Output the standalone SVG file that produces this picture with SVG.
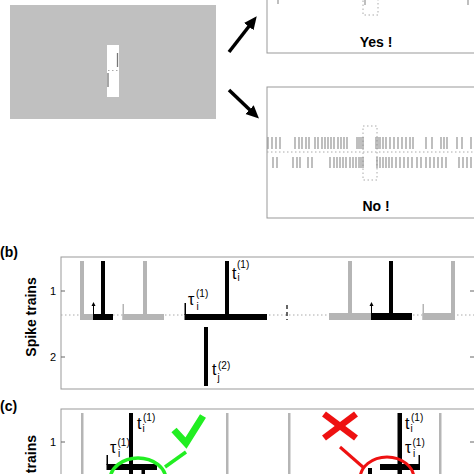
<svg xmlns="http://www.w3.org/2000/svg" width="474" height="474" viewBox="0 0 474 474">
<defs>
<style>
text{font-family:"Liberation Sans",Arial,sans-serif;fill:#000}
.b{font-weight:bold}
.box{fill:#fff;stroke:#999;stroke-width:1}
.dot{stroke:#aaa;stroke-width:1;stroke-dasharray:1.5,2.5;fill:none}
.sp1{stroke:#8a8a8a;stroke-width:1.1}
.gr{fill:#b5b5b5}
.bk{fill:#000}
.tk{stroke:#666;stroke-width:1}
.big{font-size:16px}
.sm{font-size:10px}
.arr{stroke:#000;stroke-width:3.5;fill:none}
</style>
<marker id="ah" markerUnits="userSpaceOnUse" markerWidth="14" markerHeight="14" viewBox="0 0 14 14" refX="2" refY="7" orient="auto">
<path d="M0,1 L13,7 L0,13 z" fill="#000"/>
</marker>
</defs>

<g id="stimulus">
<rect x="10" y="5" width="206" height="114" fill="#c0c0c0"/>
<rect x="107" y="45" width="12" height="52" fill="#fff"/>
<line x1="117.5" y1="53" x2="117.5" y2="67" stroke="#777" stroke-width="1.3"/>
<line x1="108" y1="73" x2="108" y2="87" stroke="#777" stroke-width="1.3"/>
<line x1="108" y1="70.5" x2="118" y2="70.5" class="dot"/>
</g>

<g id="connectors">
<line x1="229" y1="52" x2="250" y2="25" class="arr" marker-end="url(#ah)"/>
<line x1="229" y1="90" x2="251" y2="111" class="arr" marker-end="url(#ah)"/>
</g>

<g id="yes-panel">
<rect x="267" y="-2" width="220" height="55" class="box"/>
<line x1="278" y1="0" x2="278" y2="4" class="sp1"/>
<line x1="365" y1="0" x2="365" y2="5" class="sp1"/>
<line x1="468" y1="0" x2="468" y2="5" class="sp1"/>
<rect x="363" y="-2" width="15" height="17" class="dot"/>
<text x="376" y="47" class="b" font-size="14" text-anchor="middle">Yes !</text>
</g>

<g id="no-panel">
<rect x="267" y="87" width="220" height="131" class="box"/>
<rect x="363" y="126" width="14" height="54" class="dot"/>
<line x1="267" y1="152" x2="474" y2="152" class="dot"/>
<path class="sp1" d="M268,137v12M272,137v12M276,137v12M280,137v12M295,137v12M299,137v12M302,137v12M306,137v12M309,137v12M315,137v12M318,137v12M322,137v12M325,137v12M328,137v12M331,137v12M334,137v12M338,137v12M341,137v12M344,137v12M347,137v12M357,137v12M359,137v12M361,137v12M363,137v12M376,137v12M378,137v12M380,137v12M383,137v12M386,137v12M390,137v12M394,137v12M398,137v12M402,137v12M406,137v12M410,137v12M413,137v12M426,137v12M432,137v12M441,137v12M444,137v12M447,137v12M457,137v12M462,137v12M471,137v12"/>
<path class="sp1" d="M273,157v11M277,157v11M293,157v11M297,157v11M300,157v11M308,157v11M312,157v11M330,157v11M334,157v11M337,157v11M340,157v11M343,157v11M346,157v11M350,157v11M353,157v11M356,157v11M359,157v11M361,157v11M363,157v11M377,157v11M380,157v11M383,157v11M386,157v11M389,157v11M392,157v11M396,157v11M400,157v11M404,157v11M408,157v11M412,157v11M417,157v11M421,157v11M426,157v11M430,157v11M434,157v11M438,157v11M442,157v11M446,157v11M459,157v11M463,157v11M467,157v11M471,157v11"/>
<text x="376" y="211" class="b" font-size="14" text-anchor="middle">No !</text>
</g>

<g id="panel-b">
<text x="0" y="257" class="b" font-size="14">(b)</text>
<rect x="61" y="257" width="430" height="132" class="box"/>
<text transform="translate(36,317) rotate(-90)" class="b" font-size="14" text-anchor="middle">Spike trains</text>
<line x1="61" y1="291" x2="65" y2="291" class="tk"/>
<line x1="61" y1="357" x2="65" y2="357" class="tk"/>
<line x1="470" y1="291" x2="474" y2="291" class="tk"/>
<line x1="470" y1="357" x2="474" y2="357" class="tk"/>
<text x="56" y="295" font-size="11" text-anchor="end">1</text>
<text x="56" y="361" font-size="11" text-anchor="end">2</text>
<line x1="61" y1="315" x2="474" y2="315" class="dot"/>

<rect x="80" y="261" width="4" height="59" class="gr"/>
<rect x="80" y="314" width="15" height="6" class="gr"/>
<rect x="93" y="314" width="20" height="6" class="bk"/>
<rect x="101" y="261" width="4" height="53" class="bk"/>
<line x1="93.5" y1="314" x2="93.5" y2="305" stroke="#000" stroke-width="1"/>
<path d="M91.5,306 L93.5,302 L95.5,306 z" class="bk"/>

<rect x="122.5" y="304" width="1.5" height="16" class="gr"/>
<rect x="122.5" y="314" width="41.5" height="6" class="gr"/>
<rect x="143" y="261" width="4" height="53" class="gr"/>

<rect x="184.5" y="303" width="1.5" height="12" class="bk"/>
<rect x="184.5" y="314" width="82.5" height="6" class="bk"/>
<rect x="225" y="261" width="4" height="53" class="bk"/>
<text x="232" y="279" class="big">t</text>
<text x="237" y="268" class="sm">(1)</text>
<text x="237.5" y="281" class="sm">i</text>
<text x="188" y="305" class="big">τ</text>
<text x="196" y="297" class="sm">(1)</text>
<text x="196.5" y="310" class="sm">i</text>

<line x1="287" y1="305" x2="287" y2="320" stroke="#000" stroke-width="1.2" stroke-dasharray="4,3"/>

<rect x="329" y="313" width="42" height="7" class="gr"/>
<rect x="348" y="261" width="4" height="52" class="gr"/>
<rect x="371" y="313" width="41" height="7" class="bk"/>
<rect x="389" y="261" width="4" height="52" class="bk"/>
<line x1="371.5" y1="313" x2="371.5" y2="305" stroke="#000" stroke-width="1"/>
<path d="M369.5,306 L371.5,302 L373.5,306 z" class="bk"/>

<rect x="422.5" y="304" width="1.5" height="16" class="gr"/>
<rect x="422.5" y="313" width="32.5" height="7" class="gr"/>
<rect x="451" y="261" width="4" height="59" class="gr"/>

<rect x="204" y="327" width="4" height="59" class="bk"/>
<text x="212" y="375" class="big">t</text>
<text x="218" y="369" class="sm">(2)</text>
<text x="217.5" y="381" class="sm">j</text>
</g>

<g id="panel-c">
<text x="0" y="411" class="b" font-size="14">(c)</text>
<rect x="61" y="409" width="430" height="80" class="box"/>
<text transform="translate(36,435) rotate(-90)" class="b" font-size="14" text-anchor="end">trains</text>
<line x1="61" y1="442" x2="65" y2="442" class="tk"/>
<line x1="470" y1="442" x2="474" y2="442" class="tk"/>
<text x="56" y="446" font-size="11" text-anchor="end">1</text>

<rect x="81" y="413" width="2.5" height="61" class="gr"/>
<rect x="226" y="413" width="2.5" height="61" class="gr"/>
<rect x="288" y="413" width="2.5" height="61" class="gr"/>
<rect x="439" y="413" width="2.5" height="61" class="gr"/>

<rect x="129" y="413" width="4" height="61" class="bk"/>
<rect x="106.5" y="455" width="1.5" height="10" class="bk"/>
<rect x="106.5" y="464" width="50.5" height="6" class="bk"/>
<rect x="141.5" y="466" width="3.5" height="8" class="bk"/>
<text x="137" y="429" class="big">t</text>
<text x="143" y="421" class="sm">(1)</text>
<text x="142.5" y="432" class="sm">i</text>
<text x="110" y="453" class="big">τ</text>
<text x="117.5" y="446" class="sm">(1)</text>
<text x="118" y="457" class="sm">i</text>

<ellipse cx="138" cy="480" rx="28" ry="22" fill="none" stroke="#22ee22" stroke-width="3.5"/>
<line x1="165" y1="467" x2="186" y2="452" stroke="#22ee22" stroke-width="3.5"/>
<polyline points="174,430 186,443 203,416" fill="none" stroke="#22ee22" stroke-width="7"/>

<rect x="397.5" y="413" width="4.5" height="61" class="bk"/>
<rect x="380" y="464" width="40" height="6" class="bk"/>
<rect x="418.5" y="455" width="1.5" height="10" class="bk"/>
<rect x="368" y="468" width="4" height="6" class="bk"/>
<text x="405" y="429" class="big">t</text>
<text x="411" y="421" class="sm">(1)</text>
<text x="410.5" y="432" class="sm">i</text>
<text x="405" y="453" class="big">τ</text>
<text x="412.5" y="446" class="sm">(1)</text>
<text x="413" y="457" class="sm">i</text>

<ellipse cx="387" cy="479" rx="27" ry="22" fill="none" stroke="#ee1111" stroke-width="3"/>
<line x1="340" y1="447" x2="364" y2="468" stroke="#ee1111" stroke-width="3"/>
<line x1="324" y1="414" x2="356" y2="438" stroke="#ee1111" stroke-width="6.5"/>
<line x1="356" y1="414" x2="324" y2="438" stroke="#ee1111" stroke-width="6.5"/>
</g>
</svg>
